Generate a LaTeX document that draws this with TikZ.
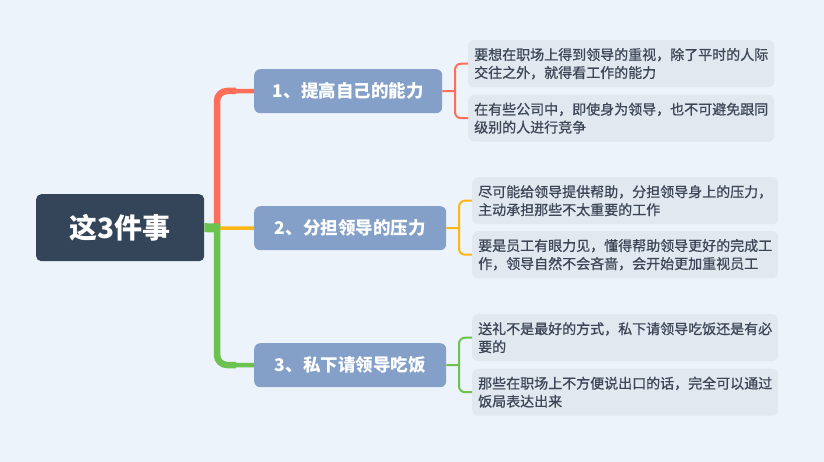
\documentclass[tikz,border=0pt]{standalone}
\usepackage{fontspec}
\setmainfont{Noto Sans CJK SC}
\newfontfamily\leaffont[FakeBold=0.8]{Noto Sans CJK SC}
\usetikzlibrary{calc}
\definecolor{bgc}{HTML}{EDF3FA}
\definecolor{rootc}{HTML}{344559}
\definecolor{brc}{HTML}{84A0C8}
\definecolor{leafc}{HTML}{E1E8F0}
\definecolor{leaftxt}{HTML}{3C4656}
\definecolor{cred}{HTML}{FF6E59}
\definecolor{corange}{HTML}{FDB714}
\definecolor{cgreen}{HTML}{6CC24F}
\tikzset{
  rootbox/.style={fill=rootc, rounded corners=5pt, text=white, font=\fontsize{28}{32}\selectfont\bfseries, anchor=north west, minimum width=168pt, minimum height=67pt, inner sep=0pt},
  brbox/.style={fill=brc, rounded corners=6pt, text=white, font=\fontsize{17.5}{20}\selectfont\bfseries, anchor=north west, minimum height=44pt, inner sep=0pt},
  leafbox/.style={fill=leafc, rounded corners=6pt, text=leaftxt, font=\leaffont\fontsize{14}{18}\selectfont, anchor=north west, minimum height=47pt, inner xsep=6pt, inner ysep=0pt, text width=294pt, align=left},
  bracket/.style={line width=2pt, rounded corners=6pt},
}
\begin{document}
\begin{tikzpicture}[x=1pt,y=-1pt]
\fill[bgc] (0,0) rectangle (824,462);
\useasboundingbox (0,0) rectangle (824,462);

\node[rootbox] (root) at (36,194) {这3件事};
\node[brbox, minimum width=188pt] (b1) at (254,69) {1、提高自己的能力};
\node[brbox, minimum width=192pt] (b2) at (254,206) {2、分担领导的压力};
\node[brbox, minimum width=192pt] (b3) at (254,343) {3、私下请领导吃饭};

\node[leafbox] (l11) at (468,40) {要想在职场上得到领导的重视，除了平时的人际\\交往之外，就得看工作的能力};
\node[leafbox] (l12) at (468,94.5) {在有些公司中，即使身为领导，也不可避免跟同\\级别的人进行竞争};
\node[leafbox] (l21) at (472,177) {尽可能给领导提供帮助，分担领导身上的压力，\\主动承担那些不太重要的工作};
\node[leafbox] (l22) at (472,231) {要是员工有眼力见，懂得帮助领导更好的完成工\\作，领导自然不会吝啬，会开始更加重视员工};
\node[leafbox] (l31) at (472,314) {送礼不是最好的方式，私下请领导吃饭还是有必\\要的};
\node[leafbox] (l32) at (472,368.5) {那些在职场上不方便说出口的话，完全可以通过\\饭局表达出来};

% trunk connectors
\coordinate (t) at (217,228);
\coordinate (k1) at (455,91);
\coordinate (k2) at (459,228);
\coordinate (k3) at (459,365);
\coordinate (h1) at (236,91);
\coordinate (h3) at (236,365);

\draw[cred, line width=6.5pt, rounded corners=10pt] (t) |- (h1);
\draw[cred, line width=4.5pt] (h1) -- (b1.west);
\draw[cgreen, line width=6.5pt, rounded corners=10pt] (t) |- (h3);
\draw[cgreen, line width=4.5pt] (h3) -- (b3.west);
\draw[corange, line width=3.5pt] (t) -- (b2.west);
\draw[cgreen, line width=9pt] (root.east) -- ($(t)+(3.25,0)$);

% brackets
\draw[cred, line width=2pt] (b1.east) -- (k1);
\draw[cred, bracket] (l11.west) -| (k1) |- (l12.west);
\draw[corange, line width=2pt] (b2.east) -- (k2);
\draw[corange, bracket] (l21.west) -| (k2) |- (l22.west);
\draw[cgreen, line width=2pt] (b3.east) -- (k3);
\draw[cgreen, bracket] (l31.west) -| (k3) |- (l32.west);
\end{tikzpicture}
\end{document}
